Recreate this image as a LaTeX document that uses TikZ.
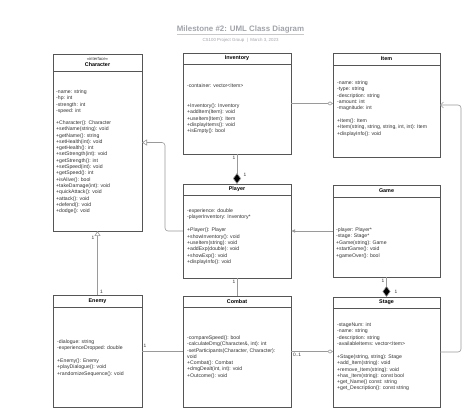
\documentclass[tikz,border=0pt]{standalone}
\usepackage{fontspec}
\setmainfont{Liberation Sans}
\usetikzlibrary{arrows.meta}
\definecolor{boxc}{HTML}{555555}
\definecolor{linec}{HTML}{9A9A9A}
\definecolor{txtc}{HTML}{333333}
\definecolor{titc}{HTML}{A0A4AA}
\begin{document}
\begin{tikzpicture}[x=1pt,y=-1pt,
 classbox/.style={draw=boxc, line width=0.8pt, inner sep=0pt, outer sep=0pt, fill=white, anchor=north west},
 hline/.style={draw=boxc, line width=0.6pt},
 body/.style={anchor=north west, align=left, inner sep=0pt, font=\fontsize{5.15}{6.3}\selectfont, text=txtc},
 head/.style={inner sep=0pt, font=\bfseries\fontsize{5.4}{6}\selectfont, text=black},
 conn/.style={draw=linec, line width=0.6pt},
 mult/.style={inner sep=0pt, font=\fontsize{4.8}{5}\selectfont, text=txtc},
 ]
\useasboundingbox (0,0) rectangle (474,419);
\fill[white] (0,0) rectangle (474,419);

% title
\node[inner sep=0pt, font=\bfseries\fontsize{7.9}{9}\selectfont, text=titc] (title) at (240.5,29) {Milestone \#2: UML Class Diagram};
\draw[draw=titc!60, line width=0.5pt] (title.south west) ++(0,1.5) -- ([yshift=-1.5pt]title.south east);
\node[inner sep=0pt, font=\fontsize{4.4}{5}\selectfont, text=titc] (subtitle) at (240.5,40) {CS100 Project Group\ \ |\ \ March 3, 2023};

% class boxes
\node[classbox, minimum width=89pt, minimum height=177pt] (character) at (53,54) {};
\node[classbox, minimum width=108pt, minimum height=101pt] (inventory) at (183,53) {};
\node[classbox, minimum width=107pt, minimum height=104pt] (item) at (333,53) {};
\node[classbox, minimum width=108pt, minimum height=94pt] (player) at (183,184) {};
\node[classbox, minimum width=107pt, minimum height=92pt] (game) at (333,185) {};
\node[classbox, minimum width=89pt, minimum height=111.5pt] (enemy) at (53,295.5) {};
\node[classbox, minimum width=108pt, minimum height=111pt] (combat) at (183,296) {};
\node[classbox, minimum width=107pt, minimum height=110pt] (stage) at (333,297) {};

% header lines
\draw[hline] (53,71) -- (142,71);
\draw[hline] (183,64) -- (291,64);
\draw[hline] (333,65) -- (440,65);
\draw[hline] (183,195) -- (291,195);
\draw[hline] (333,197) -- (440,197);
\draw[hline] (53,307) -- (142,307);
\draw[hline] (183,307) -- (291,307);
\draw[hline] (333,308) -- (440,308);

% headers
\node[inner sep=0pt, font=\fontsize{4.3}{5}\selectfont, text=txtc] (charstereo) at (97.5,59) {<<interface>>};
\node[head] (charname) at (97.5,65) {Character};
\node[head] (invname) at (237,58.5) {Inventory};
\node[head] (itemname) at (386.5,59) {Item};
\node[head] (playername) at (237,189.5) {Player};
\node[head] (gamename) at (386.5,191) {Game};
\node[head] (enemyname) at (97.5,301) {Enemy};
\node[head] (combatname) at (237,301.5) {Combat};
\node[head] (stagename) at (386.5,302.5) {Stage};

% bodies
\node[body] (charattr) at (56,89.5) {-name: string\\-hp: int\\-strength: int\\-speed: int};
\node[body] (charops) at (56,120.5) {+Character(): Character\\+setName(string): void\\+getName(): string\\+setHealth(int): void\\+getHealth(): int\\+setStrength(int): void\\+getStrength(): int\\+setSpeed(int): void\\+getSpeed(): int\\+isAlive(): bool\\+takeDamage(int): void\\+quickAttack(): void\\+attack(): void\\+defend(): void\\+dodge(): void};
\node[body] (invattr) at (187,83.5) {-container: vector<Item>};
\node[body] (invops) at (187,103.5) {+Inventory(): Inventory\\+addItem(Item): void\\+useItem(Item): Item\\+displayItems(): void\\+isEmpty(): bool};
\node[body] (itemattr) at (337,80.5) {-name: string\\-type: string\\-description: string\\-amount: int\\-magnitude: int};
\node[body] (itemops) at (337,118.5) {+Item(): Item\\+Item(string, string, string, int, int): Item\\+displayInfo(): void};
\node[body] (playerattr) at (187,208.5) {-experience: double\\-playerInventory: Inventory*};
\node[body] (playerops) at (187,228) {+Player(): Player\\+showInventory(): void\\+useItem(string): void\\+addExp(double): void\\+showExp(): void\\+displayInfo(): void};
\node[body] (gameattr) at (336,227.5) {-player: Player*\\-stage: Stage*};
\node[body] (gameops) at (336,240.5) {+Game(string): Game\\+startGame(): void\\+gameOver(): bool};
\node[body] (enemyattr) at (57,339.5) {-dialogue: string\\-experienceDropped: double};
\node[body] (enemyops) at (57,358.5) {+Enemy(): Enemy\\+playDialogue(): void\\+randomizeSequence(): void};
\node[body] (combatall) at (187,335.5) {-compareSpeed(): bool\\-calculateDmg(Character\&, int): int\\-setParticipants(Character, Character):\\void\\+Combat(): Combat\\+dmgDealt(int, int): void\\+Outcome(): void};
\node[body] (stageattr) at (337,322.5) {-stageNum: int\\-name: string\\-description: string\\-availableItems: vector<Item>};
\node[body] (stageops) at (337,354.5) {+Stage(string, string): Stage\\+add\_Item(string): void\\+remove\_Item(string): void\\+has\_Item(string): const bool\\+get\_Name() const: string\\+get\_Description(): const string};

% connectors
\draw[conn, -{Diamond[fill=black, length=11pt, width=8pt]}] (inventory.south) -- (player.north);
\node[mult] (m1) at (234,158) {1};
\node[mult] (m2) at (245,175) {1};

\draw[conn, -{Diamond[open, fill=white, length=6pt, width=4pt]}] (inventory.east) -- (inventory.east -| item.west);

\draw[conn, rounded corners=3pt, -{Triangle[open, fill=white, length=5pt, width=6pt]}] (player.west) -- ++(-18,0) |- (character.east);

\draw[conn, -{Latex[length=4pt, width=3.5pt]}] (game.west) -- (game.west -| player.east);

\draw[conn, -{Triangle[open, fill=white, length=5pt, width=6pt]}] (enemy.north) -- (character.south);
\node[mult] (m3) at (93,237.5) {1};
\node[mult] (m4) at (101.5,291.5) {1};

\draw[conn] (player.south) -- (combat.north);
\node[mult] (m5) at (234,282) {1};

\draw[conn, -{Diamond[fill=black, length=11pt, width=8pt]}] (game.south) -- (stage.north);
\node[mult] (m6) at (383,281) {1};
\node[mult] (m7) at (396,292) {1};

\draw[conn] (enemy.east) -- (enemy.east -| combat.west);
\node[mult] (m8) at (145,346) {1};

\draw[conn, -{Diamond[open, fill=white, length=6pt, width=4pt]}] (combat.east) -- (combat.east -| stage.west);
\node[mult] (m9) at (297,355) {0..1};

\draw[conn, rounded corners=3pt, -{Straight Barb[length=3pt, width=6pt]}] (stage.east) -- ++(21,0) |- (item.east);
\end{tikzpicture}
\end{document}
